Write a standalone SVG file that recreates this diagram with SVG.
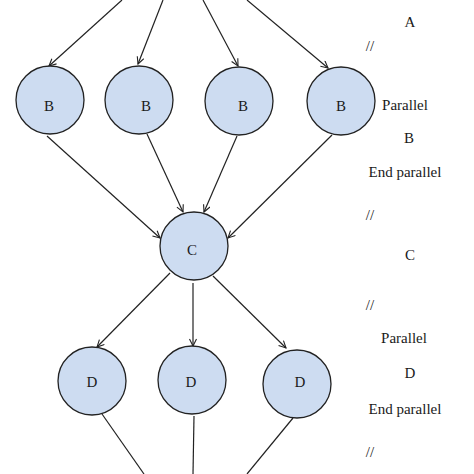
<svg xmlns="http://www.w3.org/2000/svg" width="474" height="474" viewBox="0 0 474 474">
<defs>
<marker id="arr" markerWidth="10" markerHeight="10" refX="8" refY="4" orient="auto" markerUnits="userSpaceOnUse">
<path d="M1,0.5 L8,4 L1,7.5" fill="none" stroke="#222" stroke-width="1.1"/>
</marker>
</defs>
<style>
.n{fill:#cddcf1;stroke:#222;stroke-width:1.3}
.e{stroke:#222;stroke-width:1.2;fill:none}
.a{marker-end:url(#arr)}
text{font-family:"Liberation Serif","DejaVu Serif",serif;font-size:15px;fill:#1a1a1a;text-anchor:middle}
</style>
<rect width="474" height="474" fill="#fff"/>
<g id="connectors">
<line class="e a" x1="122" y1="0" x2="49" y2="66"/>
<line class="e a" x1="163" y1="0" x2="138" y2="64"/>
<line class="e a" x1="203" y1="0" x2="238" y2="66"/>
<line class="e a" x1="247" y1="0" x2="328" y2="68"/>
<line class="e a" x1="47" y1="136" x2="160" y2="238"/>
<line class="e a" x1="147" y1="134" x2="183" y2="212"/>
<line class="e a" x1="237" y1="136" x2="204" y2="212"/>
<line class="e a" x1="332" y1="135" x2="228" y2="238"/>
<line class="e a" x1="170" y1="273" x2="97" y2="347"/>
<line class="e a" x1="193" y1="283" x2="193" y2="346"/>
<line class="e a" x1="213" y1="276" x2="286" y2="348"/>
<line class="e" x1="102" y1="414" x2="144" y2="474"/>
<line class="e" x1="194" y1="416" x2="193" y2="474"/>
<line class="e" x1="293" y1="418" x2="247" y2="474"/>
</g>
<g id="B1"><circle class="n" cx="50" cy="100" r="34"/><text x="49" y="111">B</text></g>
<g id="B2"><circle class="n" cx="139" cy="100" r="34"/><text x="146" y="111">B</text></g>
<g id="B3"><circle class="n" cx="239" cy="101" r="34"/><text x="243" y="111">B</text></g>
<g id="B4"><circle class="n" cx="341" cy="101" r="34"/><text x="341" y="111">B</text></g>
<g id="C"><circle class="n" cx="194" cy="246" r="34"/><text x="192" y="255">C</text></g>
<g id="D1"><circle class="n" cx="92" cy="381" r="34"/><text x="92" y="387">D</text></g>
<g id="D2"><circle class="n" cx="192" cy="380" r="34"/><text x="191" y="387">D</text></g>
<g id="D3"><circle class="n" cx="297" cy="384" r="34"/><text x="300" y="387">D</text></g>
<g id="labels">
<text x="410" y="27">A</text>
<text x="370" y="51">//</text>
<text x="405" y="110">Parallel</text>
<text x="409" y="143">B</text>
<text x="405" y="177">End parallel</text>
<text x="370" y="220">//</text>
<text x="410" y="260">C</text>
<text x="370" y="310">//</text>
<text x="404" y="343">Parallel</text>
<text x="410" y="378">D</text>
<text x="405" y="414">End parallel</text>
<text x="370" y="457">//</text>
</g>
</svg>
